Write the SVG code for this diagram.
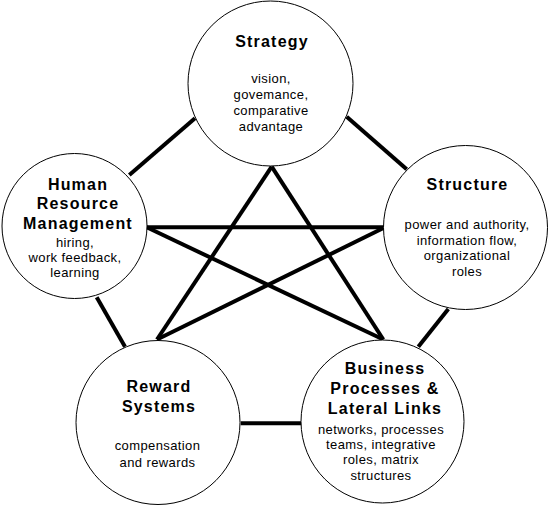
<svg xmlns="http://www.w3.org/2000/svg" width="557" height="510" viewBox="0 0 557 510">
<style>
.node circle{fill:#fff;stroke:#000;stroke-width:1}
.t{font-family:"Liberation Sans",Arial,sans-serif;font-weight:bold;font-size:16px;letter-spacing:1.2px;text-anchor:middle;fill:#000}
.b{font-family:"Liberation Sans",Arial,sans-serif;font-size:13px;letter-spacing:0.4px;text-anchor:middle;fill:#000}
#connectors line{stroke:#000;stroke-width:4;stroke-linecap:butt}
</style>
<rect width="557" height="510" fill="#fff"/>
<g id="connectors">
<line x1="195" y1="118.3" x2="129.3" y2="175"/>
<line x1="346.7" y1="116.7" x2="406.7" y2="169.3"/>
<line x1="448.3" y1="309" x2="418.3" y2="346.7"/>
<line x1="96.7" y1="297.3" x2="125" y2="346.7"/>
<line x1="240.7" y1="423.3" x2="301.7" y2="423.3"/>
<line x1="271.7" y1="166.7" x2="157" y2="339.5"/>
<line x1="271.7" y1="166.7" x2="383.3" y2="339.5"/>
<line x1="146.7" y1="227.3" x2="385" y2="227.3"/>
<line x1="146.7" y1="227.3" x2="383.3" y2="339.5"/>
<line x1="385" y1="227.3" x2="157" y2="339.5"/>
</g>
<g id="strategy" class="node">
<circle cx="270.5" cy="83.5" r="82.5"/>
<text class="t" x="272" y="47">Strategy</text>
<text class="b" x="271" y="83">vision,</text>
<text class="b" x="271" y="99">govemance,</text>
<text class="b" x="271" y="115">comparative</text>
<text class="b" x="271" y="131">advantage</text>
</g>
<g id="structure" class="node">
<circle cx="465.5" cy="227.5" r="82"/>
<text class="t" x="467.5" y="189.5">Structure</text>
<text class="b" x="467" y="229">power and authority,</text>
<text class="b" x="467" y="244.5">information flow,</text>
<text class="b" x="467" y="260">organizational</text>
<text class="b" x="467" y="275.5">roles</text>
</g>
<g id="hrm" class="node">
<circle cx="74.5" cy="226" r="72.5"/>
<text class="t" x="78" y="189.5">Human</text>
<text class="t" x="78" y="209">Resource</text>
<text class="t" x="78" y="229">Management</text>
<text class="b" x="75" y="246.5">hiring,</text>
<text class="b" x="75" y="261.5">work feedback,</text>
<text class="b" x="75" y="276.5">learning</text>
</g>
<g id="reward" class="node">
<circle cx="158" cy="422.5" r="82"/>
<text class="t" x="159" y="391.5">Reward</text>
<text class="t" x="159" y="411.5">Systems</text>
<text class="b" x="157.5" y="450">compensation</text>
<text class="b" x="157.5" y="466.5">and rewards</text>
</g>
<g id="business" class="node">
<circle cx="382.5" cy="421.5" r="81.5"/>
<text class="t" x="385" y="374">Business</text>
<text class="t" x="385" y="394">Processes &amp;</text>
<text class="t" x="385" y="414">Lateral Links</text>
<text class="b" x="381" y="433.5">networks, processes</text>
<text class="b" x="381" y="448.5">teams, integrative</text>
<text class="b" x="381" y="464">roles, matrix</text>
<text class="b" x="381" y="480">structures</text>
</g>
</svg>
